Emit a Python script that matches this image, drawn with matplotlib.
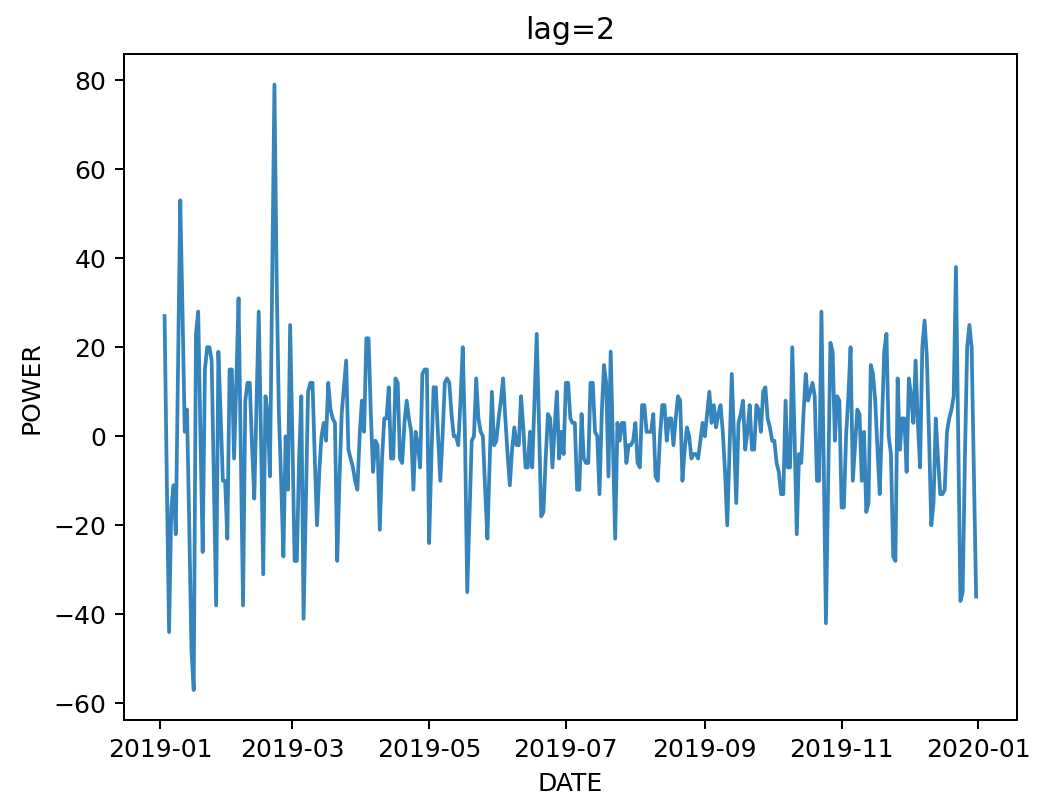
import numpy as np
import pandas as pd
import matplotlib
matplotlib.use("Agg")
import matplotlib.pyplot as plt

start_date = "2019-01-03"
end_date = "2019-12-31"

power_diff = [
    27, -10, -44, -16, -11, -22, 15, 53, 28, 1,
    6, -20, -48, -57, 23, 28, 0, -26, 15, 20,
    20, 17, -10, -38, 19, 5, -10, -10, -23, 15,
    15, -5, 12, 31, -4, -38, 8, 12, 12, -2,
    -14, 7, 28, 0, -31, 9, 5, -9, 35, 79,
    35, 5, -10, -27, 0, -12, 25, 0, -28, -28,
    -5, 9, -41, -15, 10, 12, 12, -5, -20, -8,
    0, 3, -1, 12, 6, 4, 3, -28, -10, 5,
    11, 17, -3, -5, -7, -10, -12, 0, 8, 1,
    22, 22, 5, -8, -1, -2, -21, -5, 4, 4,
    11, -5, -5, 13, 12, -5, -6, 3, 8, 4,
    1, -12, 1, -2, -7, 14, 15, 15, -24, -5,
    11, 11, 0, -10, 0, 12, 13, 12, 5, 0,
    0, -2, 8, 20, 0, -35, -18, -1, 0, 13,
    4, 1, 0, -12, -23, -6, 10, -2, -1, 4,
    8, 13, 4, -4, -11, -3, 2, -2, -2, 9,
    2, -7, -7, 1, -7, 8, 23, 3, -18, -17,
    -5, 5, 4, -7, 2, 10, -5, 1, -4, 12,
    12, 4, 3, 3, -12, -12, 5, -5, -6, -6,
    12, 12, 1, 0, -13, 5, 16, 12, -9, 19,
    -2, -23, 3, -1, 3, 3, -6, -2, -2, -1,
    3, -6, -7, 7, 7, 1, 1, 1, 5, -9,
    -10, 0, 7, 7, -1, 4, 4, -2, 4, 9,
    8, -10, -3, 2, 0, -5, -4, -4, -5, -1,
    3, 0, 5, 10, 3, 7, 2, 5, 7, 1,
    -8, -20, -3, 14, 0, -15, 3, 5, 8, -3,
    1, 7, -3, -3, 7, 6, 1, 10, 11, 4,
    2, -1, -1, -6, -8, -13, -13, 8, -7, -7,
    20, 0, -22, -4, -6, 5, 14, 8, 10, 12,
    9, -10, -10, 28, -5, -42, -10, 21, 19, -1,
    9, 8, -16, -16, 0, 9, 20, -10, -2, 6,
    5, -10, 1, -17, -15, 16, 14, 8, -3, -13,
    3, 19, 23, 0, -4, -27, -28, 13, -3, 4,
    4, -8, 13, 9, 3, 17, 3, -7, 20, 26,
    18, 0, -20, -15, 4, -5, -13, -13, -12, 1,
    4, 6, 9, 38, 0, -37, -35, -5, 20, 25,
    20, -8, -36,
]

dates = pd.date_range(start_date, end_date, freq="D")
n = min(len(dates), len(power_diff))
dates = dates[:n]
values = power_diff[:n]

fig = plt.figure(figsize=(1042 / 180, 808 / 180), dpi=180)
ax = fig.add_axes([124 / 1042, 1 - 720.3 / 808, (1016.7 - 124) / 1042, (720.3 - 54.3) / 808])
ax.plot(dates, values, color="#1f77b4", linewidth=1.5, alpha=0.9)
ax.set_title("lag=2")
ax.set_xlabel("DATE")
ax.set_ylabel("POWER")
fig.savefig("out.png", dpi=180)
